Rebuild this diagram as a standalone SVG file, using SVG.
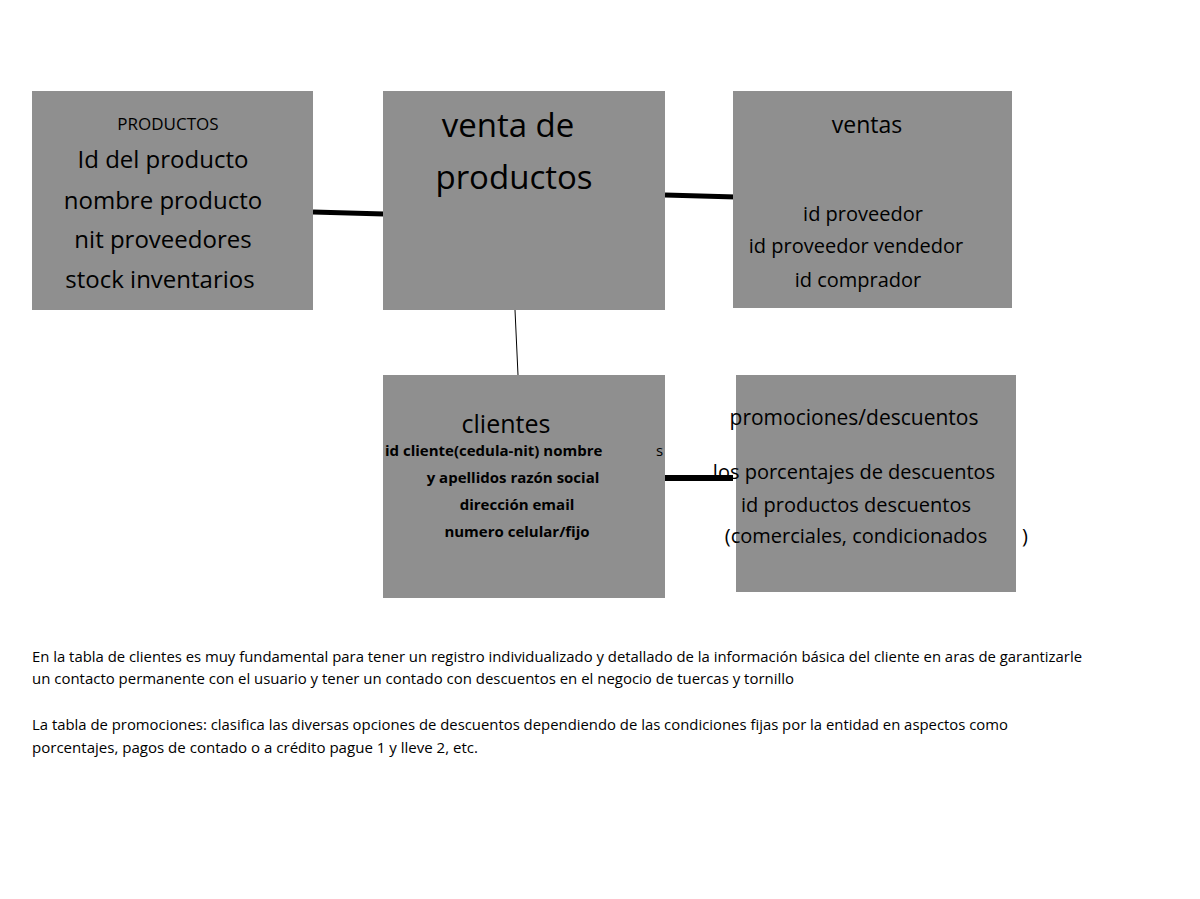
<svg xmlns="http://www.w3.org/2000/svg" width="1200" height="899" viewBox="0 0 1200 899">
<style>
.box{fill:#8f8f8f}
text{font-family:"Open Sans","Noto Sans","Liberation Sans",sans-serif;fill:#000}
.c{text-anchor:middle}
.p{font-size:14px}
</style>
<rect width="1200" height="899" fill="#fff"/>
<g id="connectors" stroke="#000">
<line x1="313" y1="212" x2="384" y2="214" stroke-width="5"/>
<line x1="665" y1="195" x2="736" y2="197" stroke-width="5"/>
<line x1="515" y1="310" x2="518" y2="375" stroke-width="1"/>
<line x1="665" y1="478" x2="733" y2="478" stroke-width="6"/>
</g>
<g id="productos">
<rect class="box" x="32" y="91" width="281" height="219"/>
<text class="c" x="168" y="130" font-size="17">PRODUCTOS</text>
<text class="c" x="163" y="168" font-size="24">Id del producto</text>
<text class="c" x="163" y="209" font-size="24">nombre producto</text>
<text class="c" x="163" y="248" font-size="24">nit proveedores</text>
<text class="c" x="160" y="288" font-size="24">stock inventarios</text>
</g>
<g id="venta">
<rect class="box" x="383" y="91" width="282" height="219"/>
<text class="c" x="508" y="137" font-size="33">venta de</text>
<text class="c" x="514" y="189" font-size="33">productos</text>
</g>
<g id="ventas">
<rect class="box" x="733" y="91" width="279" height="217"/>
<text class="c" x="867" y="133" font-size="23">ventas</text>
<text class="c" x="863" y="221" font-size="20">id proveedor</text>
<text class="c" x="856" y="253" font-size="20">id proveedor vendedor</text>
<text class="c" x="858" y="287" font-size="20">id comprador</text>
</g>
<g id="clientes">
<rect class="box" x="383" y="375" width="282" height="223"/>
<text class="c" x="506" y="433" font-size="25">clientes</text>
<text x="385" y="456" font-size="15" font-weight="bold" fill="#111">id cliente(cedula-nit) nombre</text>
<text x="656" y="456" font-size="15">s</text>
<text class="c" x="513" y="483" font-size="15" font-weight="bold">y apellidos razón social</text>
<text class="c" x="517" y="510" font-size="15" font-weight="bold">dirección email</text>
<text class="c" x="517" y="537" font-size="15" font-weight="bold">numero celular/fijo</text>
</g>
<g id="promociones">
<rect class="box" x="736" y="375" width="280" height="217"/>
<text class="c" x="854" y="425" font-size="21">promociones/descuentos</text>
<text class="c" x="854" y="479" font-size="20">los porcentajes de descuentos</text>
<text class="c" x="856" y="512" font-size="20">id productos descuentos</text>
<text class="c" x="856" y="543" font-size="20">(comerciales, condicionados</text>
<text x="1022" y="543" font-size="20">)</text>
</g>
<g id="notes" class="p">
<text x="32" y="662" textLength="1050" lengthAdjust="spacingAndGlyphs">En la tabla de clientes es muy fundamental para tener un registro individualizado y detallado de la información básica del cliente en aras de garantizarle</text>
<text x="32" y="684" textLength="762" lengthAdjust="spacingAndGlyphs">un contacto permanente con el usuario y tener un contado con descuentos en el negocio de tuercas y tornillo</text>
<text x="32" y="730" textLength="976" lengthAdjust="spacingAndGlyphs">La tabla de promociones: clasifica las diversas opciones de descuentos dependiendo de las condiciones fijas por la entidad en aspectos como</text>
<text x="32" y="753" textLength="446" lengthAdjust="spacingAndGlyphs">porcentajes, pagos de contado o a crédito pague 1 y lleve 2, etc.</text>
</g>
</svg>
